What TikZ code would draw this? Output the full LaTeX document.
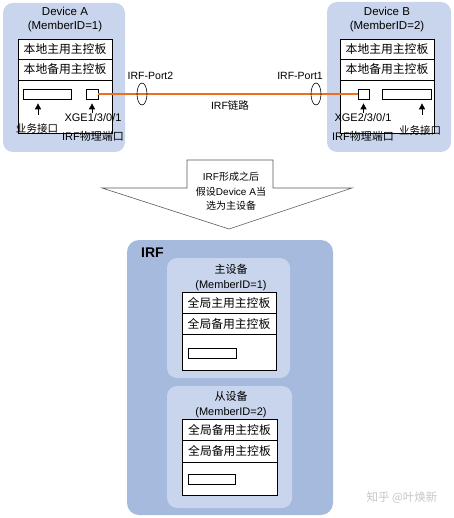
\documentclass[tikz,border=0pt]{standalone}
\usepackage{fontspec}
\setmainfont{Liberation Sans}
\newfontfamily\cjk{Noto Sans CJK SC}
\usetikzlibrary{shapes.geometric,arrows.meta}
\definecolor{devfill}{RGB}{201,213,236}
\definecolor{irffill}{RGB}{166,186,222}
\definecolor{linkorange}{RGB}{236,112,30}
\tikzset{
  devbox/.style={draw=none, fill=devfill, rounded corners=10pt, inner sep=0pt},
  board/.style={draw, fill=white, line width=0.8pt, minimum width=94pt, inner sep=0pt,
    font=\cjk\fontsize{11.8}{12}\selectfont},
  portbox/.style={draw, fill=white, line width=0.7pt, inner sep=0pt, minimum height=10pt},
  title/.style={align=center, font=\fontsize{11.5}{14}\selectfont, inner sep=0pt},
  lbl/.style={align=center, font=\fontsize{11}{19}\selectfont, inner sep=0pt},
  pointer/.style={-{Triangle[length=6pt,width=6pt]}, line width=0.7pt, shorten >=4pt},
  ring/.style={draw, ellipse, line width=0.6pt, minimum width=10pt, minimum height=22pt, inner sep=0pt},
  irflink/.style={linkorange, line width=2.2pt},
}
\begin{document}
\begin{tikzpicture}[x=1pt, y=-1pt]
    \useasboundingbox (0,0) rectangle (453,518);
    % Device A
    \node[devbox, minimum width=122pt, minimum height=149pt] (devA) at (64,77.5) {};
    \node[title] (ttlA) at (65,20) {Device A\\(MemberID=1)};
    \node[board, minimum height=20pt] (a1) at (65,49) {本地主用主控板};
    \node[board, minimum height=21pt] (a2) at (65,69.5) {本地备用主控板};
    \node[board, minimum height=53pt] (a3) at (65,106.5) {};
    \node[portbox, minimum width=48pt] (sA) at (47,94) {};
    \node[portbox, minimum width=12pt] (pA) at (92,94) {};
    \node[lbl] (xgeA) at (93,127.5) {XGE1/3/0/1\\IRF{\cjk 物理端口}};
    \node[lbl, font=\cjk\fontsize{10.5}{12}\selectfont] (bizA) at (37,128.5) {业务接口};
    \coordinate (tA) at (38,115);
    \draw[pointer] (tA) -- (tA |- sA.south);
    \draw[pointer] (xgeA.north -| pA) -- (pA.south);
    % Device B
    \node[devbox, minimum width=124pt, minimum height=150pt] (devB) at (389,77) {};
    \node[title] (ttlB) at (387,20) {Device B\\(MemberID=2)};
    \node[board, minimum height=20pt] (b1) at (387,49) {本地主用主控板};
    \node[board, minimum height=21pt] (b2) at (387,69.5) {本地备用主控板};
    \node[board, minimum height=53pt] (b3) at (387,106.5) {};
    \node[portbox, minimum width=11pt] (pB) at (363.5,94) {};
    \node[portbox, minimum width=49pt] (sB) at (406.5,94) {};
    \node[lbl] (xgeB) at (363,127.5) {XGE2/3/0/1\\IRF{\cjk 物理端口}};
    \node[lbl, font=\cjk\fontsize{10.5}{12}\selectfont] (bizB) at (420,131) {业务接口};
    \coordinate (tB) at (422,115);
    \draw[pointer] (tB) -- (tB |- sB.south);
    \draw[pointer] (xgeB.north -| pB) -- (pB.south);
    % IRF link
    \draw[irflink] (pA.east) -- (pB.west);
    \node[ring] (rA) at (142,94) {};
    \node[ring] (rB) at (316,94) {};
    \node[font=\fontsize{10.5}{12}\selectfont] (portA) at (150.5,76) {IRF-Port2};
    \node[font=\fontsize{10.5}{12}\selectfont] (portB) at (300,76) {IRF-Port1};
    \node[font=\fontsize{10.5}{12}\selectfont] (lnk) at (230,105) {IRF{\cjk 链路}};
    % callout arrow
    \draw[gray!70!black, line width=0.6pt, fill=white] (187,160) -- (273,160) -- (273,188) -- (352,188)
        -- (229,229) -- (102,188) -- (187,188) -- cycle;
    \node[align=center, font=\fontsize{10}{14.5}\selectfont, inner sep=0pt] (note) at (231,191.5)
        {IRF{\cjk 形成之后}\\{\cjk 假设}Device A{\cjk 当}\\{\cjk 选为主设备}};
    % IRF after forming
    \node[devbox, fill=irffill, rounded corners=12pt, minimum width=206pt, minimum height=275pt] (irf) at (230,377.5) {};
    \node[font=\bfseries\fontsize{14}{16}\selectfont, anchor=west, inner sep=0pt] (irfttl) at (141,253) {IRF};
    \node[devbox, minimum width=123pt, minimum height=120pt] (master) at (228.5,318) {};
    \node[title, font=\fontsize{11}{15}\selectfont] (ttlM) at (231,277.5) {{\cjk 主设备}\\(MemberID=1)};
    \node[board, minimum height=21pt] (m1) at (229,302.5) {全局主用主控板};
    \node[board, minimum height=21pt] (m2) at (229,323.5) {全局备用主控板};
    \node[board, minimum height=36pt] (m3) at (229,352) {};
    \node[portbox, minimum width=48pt] (sM) at (212,353) {};
    \node[devbox, minimum width=125pt, minimum height=122pt] (slave) at (229.5,447) {};
    \node[title, font=\fontsize{11}{15}\selectfont] (ttlS) at (231,404.5) {{\cjk 从设备}\\(MemberID=2)};
    \node[board, minimum height=21pt, minimum width=95pt] (s1) at (229.5,429.5) {全局备用主控板};
    \node[board, minimum height=22pt, minimum width=95pt] (s2) at (229.5,451) {全局备用主控板};
    \node[board, minimum height=33pt, minimum width=95pt] (s3) at (229.5,478.5) {};
    \node[portbox, minimum width=47pt] (sS) at (211.5,479) {};
    % watermark
    \node[text=gray!45, font=\cjk\fontsize{11.5}{12}\selectfont] (wm) at (402,498) {知乎 @叶焕新};
\end{tikzpicture}
\end{document}
